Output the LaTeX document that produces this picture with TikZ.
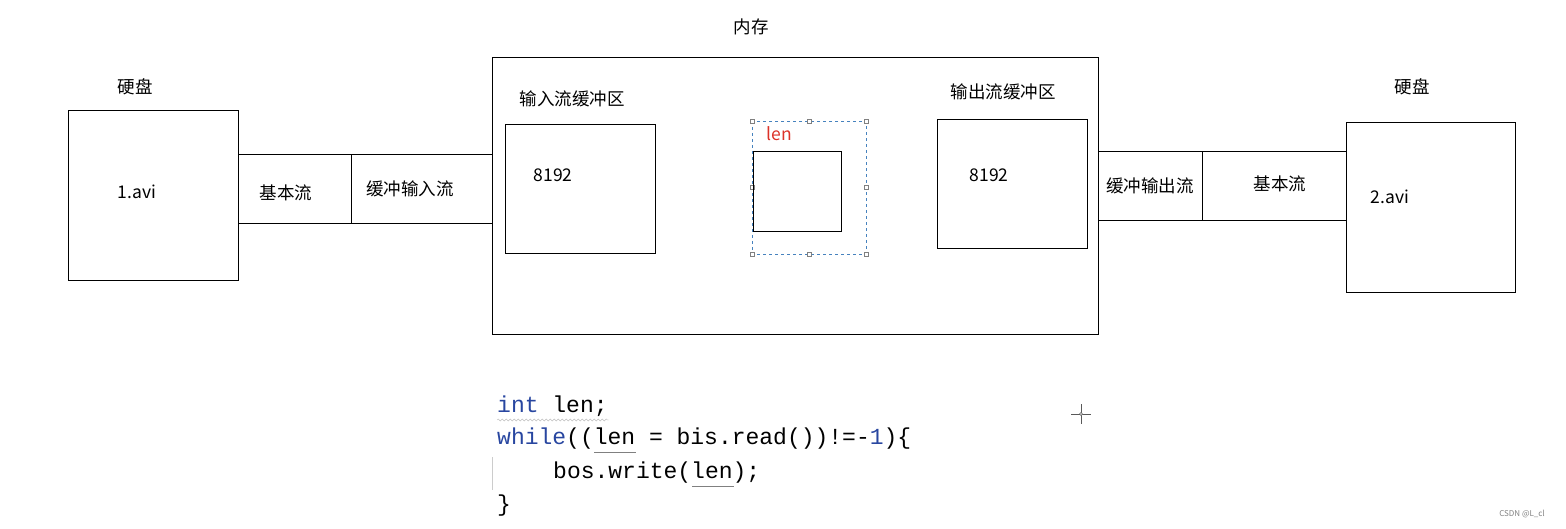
\documentclass[tikz,border=0pt]{standalone}
\usepackage{fontspec}
\setmainfont{Noto Sans CJK SC}
\newfontfamily\codefont{Liberation Mono}
\usetikzlibrary{positioning,decorations.pathmorphing}
\definecolor{kwblue}{RGB}{40,70,160}
\definecolor{lenred}{RGB}{220,50,40}
\definecolor{selblue}{RGB}{70,130,190}
\tikzset{
  box/.style={draw, line width=1pt},
  lbl/.style={font=\fontsize{17.5}{20}\selectfont},
  code/.style={font=\codefont\fontsize{23}{26}\selectfont, anchor=west, inner sep=0pt},
  handle/.style={draw=gray, fill=white, minimum size=4pt, inner sep=0pt, line width=0.6pt},
}
\begin{document}
\begin{tikzpicture}[x=1pt, y=-1pt]

    % Frame of the picture
    \useasboundingbox (0,0) rectangle (1566,529);

    % Left disk
    \node[lbl] (disk1) at (135,87) {硬盘};
    \draw[box] (68,111) rectangle (238,281);
    \node[lbl] (file1) at (137,192) {1.avi};

    % Input streams
    \draw[box] (238,155) rectangle (492,224);
    \draw[box] (351,155) -- (351,224);
    \node[lbl] (basein) at (286,193) {基本流};
    \node[lbl] (bufin) at (410,189) {缓冲输入流};

    % Memory
    \node[lbl] (mem) at (751,27) {内存};
    \draw[box] (492,58) rectangle (1098,334);

    % Input buffer
    \node[lbl] (inbufl) at (572,99) {输入流缓冲区};
    \draw[box] (505,125) rectangle (655,254);
    \node[lbl] (insize) at (553,175) {8192};

    % Selected len box
    \draw[selblue, dashed, line width=0.8pt] (752,121) rectangle (866,254);
    \foreach \x in {752,809,866}
        \foreach \y in {121,254}
            \node[handle] at (\x,\y) {};
    \node[handle] at (752,187) {};
    \node[handle] at (866,187) {};
    \draw[box] (753,152) rectangle (841,232);
    \node[lbl, text=lenred] (len) at (779,134) {len};

    % Output buffer
    \node[lbl] (outbufl) at (1003,92) {输出流缓冲区};
    \draw[box] (937,120) rectangle (1087,249);
    \node[lbl] (outsize) at (989,175) {8192};

    % Output streams
    \draw[box] (1098,152) rectangle (1346,221);
    \draw[box] (1202,152) -- (1202,221);
    \node[lbl] (bufout) at (1150,186) {缓冲输出流};
    \node[lbl] (baseout) at (1280,184) {基本流};

    % Right disk
    \node[lbl] (disk2) at (1412,87) {硬盘};
    \draw[box] (1346,123) rectangle (1515,293);
    \node[lbl] (file2) at (1390,197) {2.avi};

    % Code
    \node[code] (l1) at (497,406) {\textcolor{kwblue}{int} len;};
    \node[code] (l2) at (497,439) {\textcolor{kwblue}{while}((len = bis.read())!=-\textcolor{kwblue}{1})\{};
    \node[code] (l3) at (553,473) {bos.write(len);};
    \node[code] (l4) at (497,506) {\}};
    \draw[gray!50, decorate, decoration={snake, amplitude=1pt, segment length=4pt}] (497,420) -- (609,420);
    \draw[gray] (594,452) -- (636,452);
    \draw[gray] (692,486) -- (734,486);
    \draw[gray!40] (492,457) -- (492,490);

    % Cursor
    \draw[gray!70!black] (1081,404) -- (1081,424) (1071,414) -- (1091,414);
    \draw[gray!70!black, fill=white] (1081,414) circle (1.5);

    % Watermark
    \node[text=gray, font=\fontsize{8}{9}\selectfont] (mark) at (1522,514) {CSDN @L\_cl};

\end{tikzpicture}
\end{document}
